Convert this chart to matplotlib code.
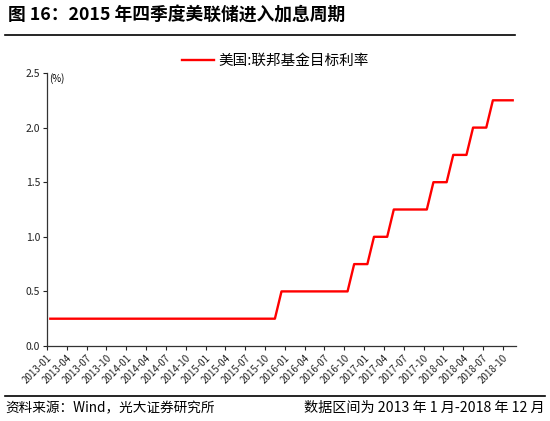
import matplotlib
matplotlib.use('Agg')
import matplotlib.pyplot as plt
import numpy as np

plt.rcParams['font.family'] = ['Noto Sans CJK SC', 'DejaVu Sans']

# 月度数据 2013-01 至 2018-11
months = [f'{y}-{m:02d}' for y in range(2013, 2019) for m in range(1, 13)][:71]
rate = ([0.25] * 35 + [0.5] * 11 + [0.75] * 3 + [1.0] * 3 + [1.25] * 6
        + [1.5] * 3 + [1.75] * 3 + [2.0] * 3 + [2.25] * 4)
tick_labels = months[::3]

fig = plt.figure(figsize=(5.5, 4.21), dpi=100)
ax = fig.add_axes([47 / 550, 1 - 346 / 421, (516 - 47) / 550, (346 - 73) / 421])

x = np.arange(len(months))
ax.plot(x, rate, color='#ff0000', lw=1.7, label='美国:联邦基金目标利率')

ax.set_xlim(-0.5, len(months) - 0.5)
ax.set_ylim(0, 2.5)
ax.set_yticks(np.arange(0, 2.51, 0.5))
ax.set_yticklabels([f'{v:.1f}' for v in np.arange(0, 2.51, 0.5)], fontsize=7.5)
ax.set_xticks(x[::3] - 0.5)
ax.set_xticklabels(tick_labels, rotation=45, ha='right', rotation_mode='anchor', fontsize=7)
ax.tick_params(axis='both', direction='out', length=3, width=0.8, colors='#222222', pad=2)
for s in ['top', 'right']:
    ax.spines[s].set_visible(False)
for s in ['left', 'bottom']:
    ax.spines[s].set_color('#333333')
    ax.spines[s].set_linewidth(0.9)

ax.text(0.005, 1.0, '(%)', transform=ax.transAxes, fontsize=7, va='top', ha='left')

fig.legend(loc='upper center', bbox_to_anchor=(0.5, 1 - 41 / 421), frameon=False,
           fontsize=10.5, handlelength=2.2, handletextpad=0.3)

fig.text(8 / 550, 1 - 16 / 421, '图 16：2015 年四季度美联储进入加息周期', fontsize=12.8,
         fontweight='bold', va='center', ha='left')
fig.add_artist(plt.Line2D([5 / 550, 515 / 550], [1 - 35 / 421] * 2, color='black', lw=1.2))
fig.add_artist(plt.Line2D([5 / 550, 545 / 550], [1 - 396 / 421] * 2, color='black', lw=1.2))
fig.text(5 / 550, 1 - 408 / 421, '资料来源：Wind，光大证券研究所', fontsize=9.8, va='center', ha='left')
fig.text(545 / 550, 1 - 408 / 421, '数据区间为 2013 年 1 月-2018 年 12 月', fontsize=10.2,
         va='center', ha='right')

fig.savefig('out.png', dpi=100)
